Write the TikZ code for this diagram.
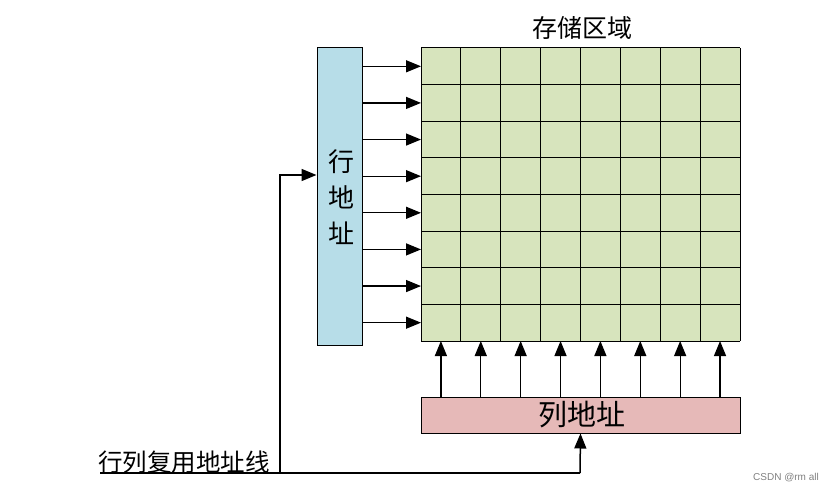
\documentclass[tikz,border=0pt]{standalone}
\usepackage{fontspec}
\newfontfamily\cjk{Noto Sans CJK SC}
\newfontfamily\wmf{Liberation Sans}
\usetikzlibrary{arrows.meta}
\definecolor{gridg}{HTML}{D7E4BD}
\definecolor{rowb}{HTML}{B7DDE8}
\definecolor{colp}{HTML}{E6B9B8}
\tikzset{arr/.style={-{Triangle[length=15pt,width=12pt]},line width=1.3pt},
 boxs/.style={draw,line width=1pt}}
\begin{document}
\begin{tikzpicture}[x=1pt,y=-1pt]
\useasboundingbox (0,0) rectangle (840,494);
\fill[gridg] (421,48) rectangle (740,341);
\foreach \i in {0,...,8} \draw[line width=1pt] ({421+\i*39.875},48) -- ({421+\i*39.875},341);
\foreach \j in {0,...,8} \draw[line width=1pt] (421,{48+\j*36.625}) -- (740,{48+\j*36.625});
\node[font=\cjk\fontsize{25}{30}\selectfont] (title) at (582,28) {存储区域};
\node[boxs,fill=rowb,minimum width=45pt,minimum height=297pt,inner sep=0pt] (row) at (339.5,196.5) {};
\node[font=\cjk\fontsize{26}{36}\selectfont,align=center] (rowt) at (341,197) {行\\地\\址};
\node[boxs,fill=colp,minimum width=319pt,minimum height=36pt,inner sep=0pt] (col) at (580.5,415) {};
\node[font=\cjk\fontsize{29}{32}\selectfont] (colt) at (582,415) {列地址};
\foreach \j in {0,...,7} {
  \coordinate (rs\j) at (362,{66.3+\j*36.625});
  \coordinate (re\j) at (421,{66.3+\j*36.625});
  \draw[arr] (rs\j) -- (re\j);
  \coordinate (cs\j) at ({440.9+\j*39.875},397);
  \coordinate (ce\j) at ({440.9+\j*39.875},341);
  \draw[arr] (cs\j) -- (ce\j);
}
\coordinate (l0) at (100,473);
\coordinate (lj) at (280,473);
\coordinate (lc) at (580,473);
\draw[line width=1.5pt] (l0) -- (lc);
\draw[arr,line width=1.5pt] (lc) -- (col.south);
\draw[arr,line width=1.5pt] (lj) |- (row.west |- 0,175);
\node[font=\cjk\fontsize{24.5}{27}\selectfont,anchor=south west,inner sep=1pt] (lab) at (97,475) {行列复用地址线};
\node[font=\wmf\fontsize{10}{12}\selectfont,text=gray] (wm) at (786,478) {CSDN @rm all};
\end{tikzpicture}
\end{document}
